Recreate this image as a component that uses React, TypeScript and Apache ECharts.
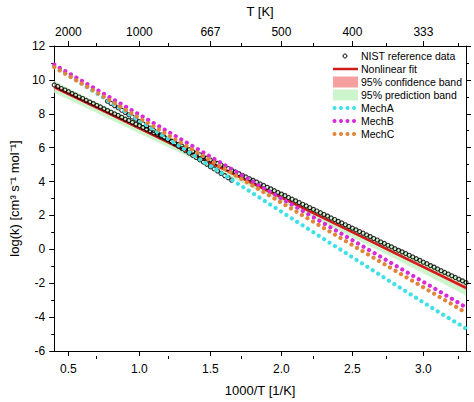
import { useEffect, useRef } from 'react';
import * as echarts from 'echarts';

// 1000/T tick positions and their labels (bottom axis) and temperatures (top axis)
const invTicks = [0.5, 1.0, 1.5, 2.0, 2.5, 3.0];
const invLabels = ['0.5', '1.0', '1.5', '2.0', '2.5', '3.0'];
const tempLabels = ['2000', '1000', '667', '500', '400', '333'];
const invMinorTicks = [0.75, 1.25, 1.75, 2.25, 2.75, 3.25];

// Nonlinear fit and its bands
const fitX = [0.4, 0.7, 1.0, 1.3, 1.6, 1.9, 2.2, 2.5, 2.8, 3.1, 3.3];
const fitY = [9.58, 8.36, 7.14, 5.92, 4.7, 3.47, 2.24, 1.01, -0.22, -1.45, -2.27];
const confLower = [9.46, 8.27, 7.07, 5.87, 4.655, 3.425, 2.19, 0.95, -0.3, -1.55, -2.39];
const confUpper = [9.7, 8.45, 7.21, 5.97, 4.745, 3.515, 2.29, 1.07, -0.14, -1.35, -2.15];
const predLower = [9.23, 8.04, 6.84, 5.64, 4.43, 3.2, 1.96, 0.71, -0.56, -1.85, -2.72];
const predUpper = [9.93, 8.68, 7.44, 6.2, 4.97, 3.74, 2.52, 1.31, 0.12, -1.05, -1.82];

// Mechanism predictions
const mechX = [0.4, 0.7, 1.0, 1.3, 1.6, 1.9, 2.2, 2.5, 2.8, 3.1, 3.3];
const mechA = [10.8, 9.2, 7.6, 6.0, 4.38, 2.76, 1.14, -0.47, -2.08, -3.66, -4.67];
const mechB = [10.9, 9.42, 7.94, 6.46, 4.98, 3.5, 2.02, 0.54, -0.94, -2.42, -3.42];
const mechC = [10.75, 9.25, 7.75, 6.25, 4.75, 3.25, 1.75, 0.25, -1.25, -2.74, -3.74];

// NIST reference data: [1000/T, log(k)]
const nistSetA: [number, number][] = [
  [0.4, 9.7], [0.425, 9.61], [0.45, 9.49], [0.475, 9.4], [0.5, 9.3], [0.525, 9.19], [0.55, 9.1], [0.575, 8.99],
  [0.6, 8.9], [0.625, 8.79], [0.65, 8.69], [0.675, 8.6], [0.7, 8.49], [0.725, 8.4], [0.75, 8.29], [0.775, 8.19],
  [0.8, 8.09], [0.825, 7.99], [0.85, 7.9], [0.875, 7.79], [0.9, 7.68], [0.925, 7.6], [0.95, 7.49], [0.975, 7.38],
  [1.0, 7.29], [1.025, 7.19], [1.05, 7.08], [1.075, 6.99], [1.1, 6.88], [1.125, 6.79], [1.15, 6.68], [1.175, 6.59],
  [1.2, 6.48], [1.225, 6.39], [1.25, 6.28], [1.275, 6.19], [1.3, 6.08], [1.325, 5.98], [1.35, 5.88], [1.375, 5.78],
  [1.4, 5.68], [1.425, 5.58], [1.45, 5.47], [1.475, 5.38], [1.5, 5.27], [1.525, 5.18], [1.55, 5.07], [1.575, 4.98],
  [1.6, 4.87], [1.625, 4.77], [1.65, 4.67], [1.675, 4.57], [1.7, 4.47], [1.725, 4.37], [1.75, 4.27], [1.775, 4.17],
  [1.8, 4.07], [1.825, 3.97], [1.85, 3.86], [1.875, 3.77], [1.9, 3.66], [1.925, 3.57], [1.95, 3.46], [1.975, 3.36],
  [2.0, 3.26], [2.025, 3.17], [2.05, 3.06], [2.075, 2.96], [2.1, 2.86], [2.125, 2.76], [2.15, 2.66], [2.175, 2.56],
  [2.2, 2.46], [2.225, 2.36], [2.25, 2.26], [2.275, 2.16], [2.3, 2.06], [2.325, 1.96], [2.35, 1.85], [2.375, 1.76],
  [2.4, 1.65], [2.425, 1.56], [2.45, 1.45], [2.475, 1.35], [2.5, 1.25], [2.525, 1.15], [2.55, 1.05], [2.575, 0.95],
  [2.6, 0.85], [2.625, 0.75], [2.65, 0.64], [2.675, 0.55], [2.7, 0.44], [2.725, 0.35], [2.75, 0.24], [2.775, 0.15],
  [2.8, 0.04], [2.825, -0.06], [2.85, -0.15], [2.875, -0.25], [2.9, -0.35], [2.925, -0.45], [2.95, -0.55], [2.975, -0.65],
  [3.0, -0.76], [3.025, -0.85], [3.05, -0.96], [3.075, -1.05], [3.1, -1.16], [3.125, -1.26], [3.15, -1.36], [3.175, -1.46],
  [3.2, -1.56], [3.225, -1.66], [3.25, -1.76], [3.275, -1.86], [3.3, -1.96],
];
const nistSetB: [number, number][] = [
  [0.775, 8.74], [0.8, 8.61], [0.825, 8.48], [0.85, 8.35], [0.875, 8.21], [0.9, 8.08], [0.925, 7.94], [0.95, 7.81],
  [0.975, 7.68], [1.0, 7.55], [1.025, 7.41], [1.05, 7.28], [1.075, 7.15], [1.1, 7.02], [1.125, 6.88], [1.15, 6.75],
  [1.175, 6.62], [1.2, 6.48], [1.225, 6.35], [1.25, 6.22], [1.275, 6.08], [1.3, 5.95], [1.325, 5.82], [1.35, 5.68],
  [1.375, 5.55], [1.4, 5.42], [1.425, 5.28], [1.45, 5.15], [1.475, 5.02], [1.5, 4.88], [1.525, 4.75], [1.55, 4.62],
  [1.575, 4.48], [1.6, 4.35], [1.625, 4.22], [1.65, 4.08],
];

const FONT = "'Liberation Sans', Arial, sans-serif";
const RED = '#d21c1c';
const PINK = '#f5a0a0';
const GREEN = '#cdf5cd';
const CYAN = '#3fe0e6';
const MAGENTA = '#d82ad8';
const ORANGE = '#e2843a';

const pairs = (xs: number[], ys: number[]) => xs.map((x, i) => [x, ys[i]]);

const labelFor = (ticks: number[], labels: string[]) => (v: number) => {
  let best = 0;
  ticks.forEach((t, i) => {
    if (Math.abs(t - v) < Math.abs(ticks[best] - v)) best = i;
  });
  return labels[best];
};

function bandSeries(lower: number[], upper: number[], color: string, z: number) {
  return {
    type: 'custom',
    xAxisIndex: 0,
    yAxisIndex: 0,
    silent: true,
    z,
    data: [[fitX[0], fitY[0]]],
    renderItem: (_params: any, api: any) => {
      const pts: number[][] = [];
      fitX.forEach((x, i) => pts.push(api.coord([x, upper[i]])));
      for (let i = fitX.length - 1; i >= 0; i--) pts.push(api.coord([fitX[i], lower[i]]));
      return { type: 'polygon', shape: { points: pts }, style: { fill: color } };
    },
  };
}

function dottedSeries(name: string, ys: number[], color: string) {
  return {
    name,
    type: 'line',
    data: pairs(mechX, ys),
    symbol: 'none',
    z: 6,
    lineStyle: { color, width: 4.2, type: [0.01, 6.4], cap: 'round' },
  };
}

const nistStyle = { color: 'rgba(0,0,0,0)', borderColor: '#000', borderWidth: 1.2 };
const black = { color: '#000', width: 1 };

export default function App() {
  const ref = useRef<HTMLDivElement>(null);

  useEffect(() => {
    if (!ref.current) return;
    const chart = echarts.init(ref.current, undefined, { renderer: 'svg' });

    const legendRows = [
      'NIST reference data',
      'Nonlinear fit',
      '95% confidence band',
      '95% prediction band',
      'MechA',
      'MechB',
      'MechC',
    ];
    const rowY = (i: number) => 56 + 13 * i;
    const legend: any[] = [];
    legendRows.forEach((t, i) => {
      legend.push({
        type: 'text',
        x: 361,
        y: rowY(i),
        style: { text: t, fontSize: 10.5, fontFamily: FONT, fill: '#000', verticalAlign: 'middle' },
      });
    });
    legend.push({ type: 'circle', shape: { cx: 345, cy: rowY(0), r: 2 }, style: { fill: 'none', stroke: '#000', lineWidth: 1 } });
    legend.push({ type: 'line', shape: { x1: 333, y1: rowY(1), x2: 358, y2: rowY(1) }, style: { stroke: RED, lineWidth: 2.5 } });
    legend.push({ type: 'rect', shape: { x: 333, y: rowY(2) - 5.5, width: 25, height: 11 }, style: { fill: PINK } });
    legend.push({ type: 'rect', shape: { x: 333, y: rowY(3) - 5.5, width: 25, height: 11 }, style: { fill: GREEN } });
    [CYAN, MAGENTA, ORANGE].forEach((c, j) => {
      [334.5, 341, 347.5, 354].forEach((cx) => {
        legend.push({ type: 'circle', shape: { cx, cy: rowY(4 + j), r: 2 }, style: { fill: c } });
      });
    });

    const gridBox = { left: 45, right: 8, top: 46, bottom: 46 };

    chart.setOption({
      animation: false,
      backgroundColor: '#fff',
      textStyle: { fontFamily: FONT },
      grid: [
        { ...gridBox, containLabel: false },
        { ...gridBox, containLabel: false },
      ],
      xAxis: [
        {
          type: 'value',
          gridIndex: 0,
          position: 'bottom',
          min: 0.4,
          max: 3.3,
          name: '1000/T [1/K]',
          nameLocation: 'middle',
          nameGap: 33,
          nameTextStyle: { fontSize: 13, color: '#000', fontFamily: FONT },
          axisLine: { onZero: false, lineStyle: black },
          axisTick: { customValues: invTicks, length: 5, lineStyle: black },
          axisLabel: {
            customValues: invTicks,
            formatter: labelFor(invTicks, invLabels),
            fontSize: 12,
            color: '#000',
            margin: 12,
            fontFamily: FONT,
          },
          splitLine: { show: false },
        },
        {
          type: 'value',
          gridIndex: 0,
          position: 'top',
          min: 0.4,
          max: 3.3,
          name: 'T [K]',
          nameLocation: 'middle',
          nameGap: 28,
          nameTextStyle: { fontSize: 13, color: '#000', fontFamily: FONT },
          axisLine: { onZero: false, lineStyle: black },
          axisTick: { customValues: invTicks, length: 5, lineStyle: black },
          axisLabel: {
            customValues: invTicks,
            formatter: labelFor(invTicks, tempLabels),
            fontSize: 12,
            color: '#000',
            margin: 8,
            fontFamily: FONT,
          },
          splitLine: { show: false },
        },
        {
          type: 'value',
          gridIndex: 1,
          position: 'bottom',
          min: 0.4,
          max: 3.3,
          axisLine: { show: false, onZero: false },
          axisTick: { customValues: invMinorTicks, length: 3, lineStyle: black },
          axisLabel: { show: false },
          splitLine: { show: false },
        },
        {
          type: 'value',
          gridIndex: 1,
          position: 'top',
          min: 0.4,
          max: 3.3,
          axisLine: { show: false, onZero: false },
          axisTick: { customValues: invMinorTicks, length: 3, lineStyle: black },
          axisLabel: { show: false },
          splitLine: { show: false },
        },
      ],
      yAxis: [
        {
          type: 'value',
          gridIndex: 0,
          position: 'left',
          min: -6,
          max: 12,
          interval: 2,
          name: 'log(k) [cm³ s⁻¹ mol⁻¹]',
          nameLocation: 'middle',
          nameGap: 29,
          nameTextStyle: { fontSize: 13, color: '#000', fontFamily: FONT },
          axisLine: { show: true, onZero: false, lineStyle: black },
          axisTick: { show: true, length: 5, lineStyle: black },
          minorTick: { show: true, splitNumber: 2, length: 3, lineStyle: black },
          axisLabel: { fontSize: 12, color: '#000', margin: 9, fontFamily: FONT },
          splitLine: { show: false },
        },
        {
          type: 'value',
          gridIndex: 0,
          position: 'right',
          min: -6,
          max: 12,
          interval: 2,
          axisLine: { show: true, onZero: false, lineStyle: black },
          axisTick: { show: true, length: 5, lineStyle: black },
          minorTick: { show: true, splitNumber: 2, length: 3, lineStyle: black },
          axisLabel: { show: false },
          splitLine: { show: false },
        },
        {
          type: 'value',
          gridIndex: 1,
          min: -6,
          max: 12,
          show: false,
        },
      ],
      series: [
        bandSeries(predLower, predUpper, GREEN, 1),
        bandSeries(confLower, confUpper, PINK, 2),
        {
          name: 'Nonlinear fit',
          type: 'line',
          data: pairs(fitX, fitY),
          symbol: 'none',
          z: 3,
          lineStyle: { color: RED, width: 2.5 },
        },
        {
          name: 'NIST reference data',
          type: 'scatter',
          data: nistSetA,
          symbol: 'circle',
          symbolSize: 4,
          z: 4,
          itemStyle: nistStyle,
        },
        {
          name: 'NIST reference data',
          type: 'scatter',
          data: nistSetB,
          symbol: 'circle',
          symbolSize: 4,
          z: 4,
          itemStyle: nistStyle,
        },
        dottedSeries('MechA', mechA, CYAN),
        dottedSeries('MechB', mechB, MAGENTA),
        dottedSeries('MechC', mechC, ORANGE),
      ],
      graphic: legend,
    });

    return () => chart.dispose();
  }, []);

  return (
    <div
      ref={ref}
      style={{ position: 'absolute', left: 0, top: 0, width: 474, height: 402, background: '#fff' }}
    />
  );
}
